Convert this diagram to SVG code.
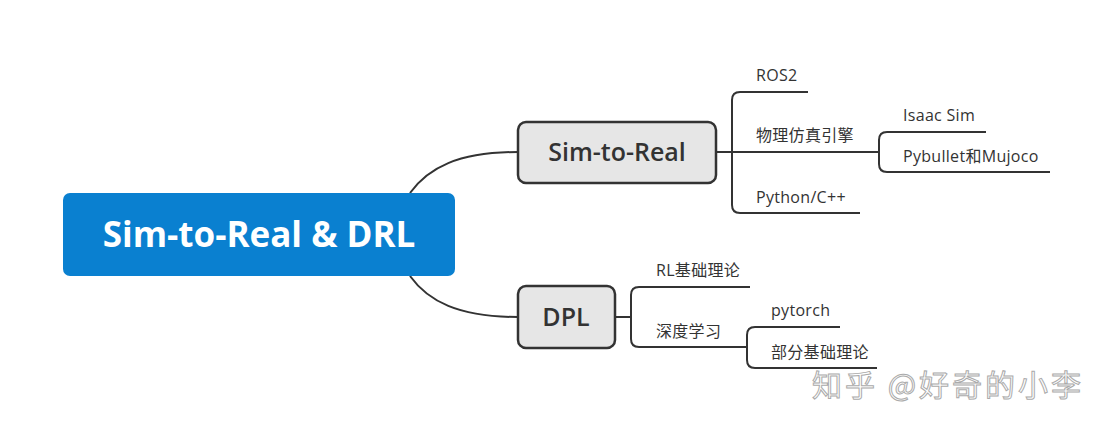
<svg xmlns="http://www.w3.org/2000/svg" width="1112" height="431" viewBox="0 0 1112 431">
<style>
.ln{fill:none;stroke:#333;stroke-width:2}
.node{fill:#e6e6e6;stroke:#333;stroke-width:2.5}
.t{font-family:"Open Sans","Noto Sans CJK SC",sans-serif;font-size:16px;fill:#333;letter-spacing:0.3px}
.nt{font-family:"Open Sans","Noto Sans CJK SC",sans-serif;font-size:25px;font-weight:600;fill:#333;text-anchor:middle}
.rt{font-family:"Open Sans","Noto Sans CJK SC",sans-serif;font-size:35px;font-weight:bold;fill:#fff;text-anchor:middle}
.wm{font-family:"Noto Sans CJK SC",sans-serif;font-size:30px;fill:#fff;stroke:#aaa;stroke-width:1;letter-spacing:3px}
</style>
<rect width="1112" height="431" fill="#fff"/>
<g id="connectors">
<path class="ln" d="M410 193 C428 168,458 152,518 152"/>
<path class="ln" d="M410 276 C428 301,458 317,518 317"/>
<path class="ln" d="M716 152 H880"/>
<path class="ln" d="M808 92 H740 Q732 92 732 100 V205 Q732 213 740 213 H860"/>
<path class="ln" d="M986 132 H887 Q879 132 879 140 V164 Q879 172 887 172 H1050"/>
<path class="ln" d="M615 317 H631"/>
<path class="ln" d="M750 287 H639 Q631 287 631 295 V339 Q631 347 639 347 H747"/>
<path class="ln" d="M840 327 H755 Q747 327 747 335 V360 Q747 368 755 368 H877"/>
</g>
<g id="root">
<rect x="63" y="193" width="392" height="83" rx="7" fill="#0a80d0"/>
<text class="rt" x="259" y="247">Sim-to-Real &amp; DRL</text>
</g>
<g id="sim2real">
<rect class="node" x="518" y="122" width="198" height="61" rx="8"/>
<text class="nt" x="617" y="161">Sim-to-Real</text>
</g>
<g id="dpl">
<rect class="node" x="518" y="286" width="97" height="62" rx="8"/>
<text class="nt" x="566" y="326">DPL</text>
</g>
<g id="ros2"><text class="t" x="756" y="81">ROS2</text></g>
<g id="physics"><text class="t" x="756" y="141">物理仿真引擎</text></g>
<g id="python"><text class="t" x="756" y="203">Python/C++</text></g>
<g id="isaac"><text class="t" x="903" y="121">Isaac Sim</text></g>
<g id="pybullet"><text class="t" x="903" y="162">Pybullet和Mujoco</text></g>
<g id="rl"><text class="t" x="656" y="276">RL基础理论</text></g>
<g id="dl"><text class="t" x="656" y="337">深度学习</text></g>
<g id="pytorch"><text class="t" x="771" y="316">pytorch</text></g>
<g id="basic"><text class="t" x="771" y="358">部分基础理论</text></g>
<text class="wm" x="812" y="396">知乎 @好奇的小李</text>
</svg>
